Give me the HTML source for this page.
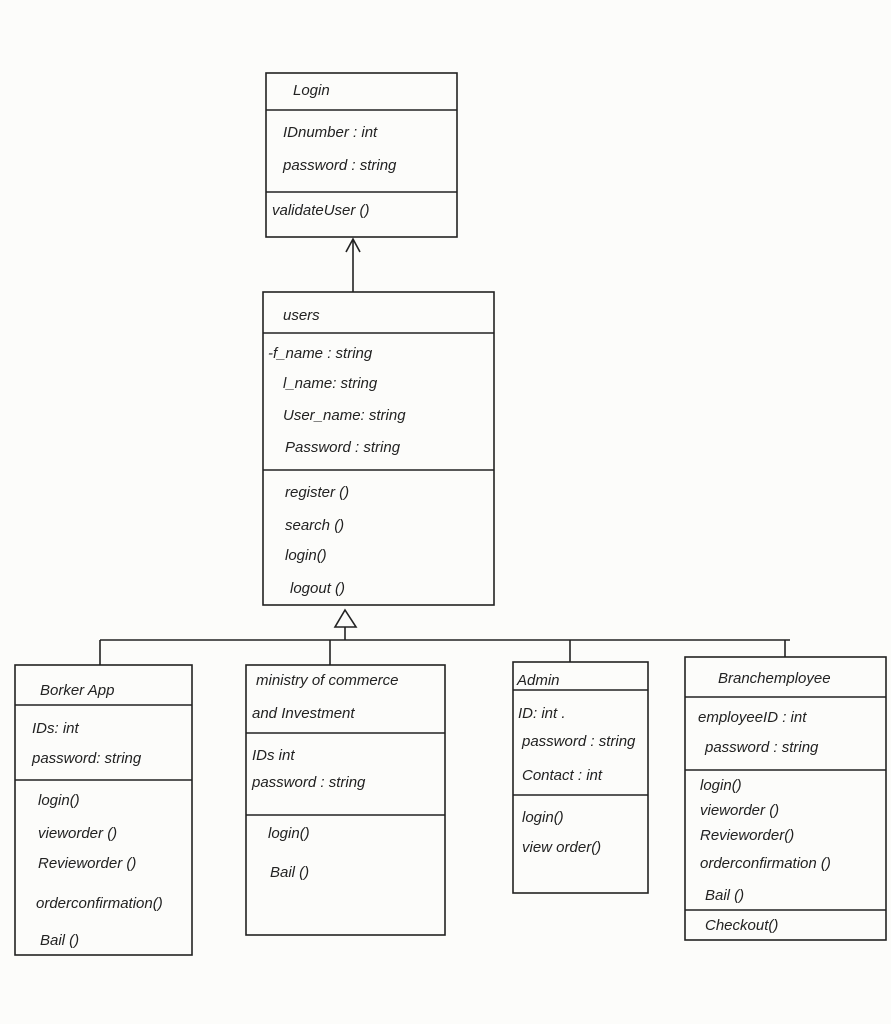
<!DOCTYPE html>
<html><head><style>
body{margin:0;background:#fcfcfa;}
svg{display:block}
text{font-family:"Liberation Sans",sans-serif;font-size:15px;fill:#222;font-style:italic}
</style></head><body>
<svg width="891" height="1024" viewBox="0 0 891 1024" xmlns="http://www.w3.org/2000/svg">
<rect width="891" height="1024" fill="#fcfcfa"/>
<g stroke="#222" stroke-width="1.6" fill="none">
<!-- Login -->
<rect x="266" y="73" width="191" height="164"/>
<line x1="266" y1="110" x2="457" y2="110"/>
<line x1="266" y1="192" x2="457" y2="192"/>
<!-- arrow -->
<line x1="353" y1="292" x2="353" y2="240"/>
<polyline points="346,252 353,239 360,252"/>
<!-- Users -->
<rect x="263" y="292" width="231" height="313"/>
<line x1="263" y1="333" x2="494" y2="333"/>
<line x1="263" y1="470" x2="494" y2="470"/>
<!-- generalization -->
<polygon points="345,610 335,627 356,627"/>
<line x1="345" y1="627" x2="345" y2="640"/>
<line x1="100" y1="640" x2="790" y2="640"/>
<line x1="100" y1="640" x2="100" y2="665"/>
<line x1="330" y1="640" x2="330" y2="665"/>
<line x1="570" y1="640" x2="570" y2="662"/>
<line x1="785" y1="640" x2="785" y2="657"/>
<!-- Borker -->
<rect x="15" y="665" width="177" height="290"/>
<line x1="15" y1="705" x2="192" y2="705"/>
<line x1="15" y1="780" x2="192" y2="780"/>
<!-- Ministry -->
<rect x="246" y="665" width="199" height="270"/>
<line x1="246" y1="733" x2="445" y2="733"/>
<line x1="246" y1="815" x2="445" y2="815"/>
<!-- Admin -->
<rect x="513" y="662" width="135" height="231"/>
<line x1="513" y1="690" x2="648" y2="690"/>
<line x1="513" y1="795" x2="648" y2="795"/>
<!-- Branch -->
<rect x="685" y="657" width="201" height="283"/>
<line x1="685" y1="697" x2="886" y2="697"/>
<line x1="685" y1="770" x2="886" y2="770"/>
<line x1="685" y1="910" x2="886" y2="910"/>
</g>
<text x="293" y="95">Login</text>
<text x="283" y="137" font-size="13">IDnumber : int</text>
<text x="283" y="170" font-size="13">password : string</text>
<text x="272" y="215" font-size="13">validateUser ()</text>

<text x="283" y="320" font-size="13">users</text>
<text x="268" y="358">-f_name : string</text>
<text x="283" y="388">l_name: string</text>
<text x="283" y="420">User_name: string</text>
<text x="285" y="452">Password : string</text>
<text x="285" y="497" font-size="13">register ()</text>
<text x="285" y="530">search ()</text>
<text x="285" y="560">login()</text>
<text x="290" y="593">logout ()</text>

<text x="40" y="695">Borker App</text>
<text x="32" y="733">IDs: int</text>
<text x="32" y="763" font-size="13">password: string</text>
<text x="38" y="805">login()</text>
<text x="38" y="838">vieworder ()</text>
<text x="38" y="868" font-size="13">Revieworder ()</text>
<text x="36" y="908" font-size="13">orderconfirmation()</text>
<text x="40" y="945">Bail ()</text>

<text x="256" y="685">ministry of commerce</text>
<text x="252" y="718">and Investment</text>
<text x="252" y="760">IDs int</text>
<text x="252" y="787" font-size="13">password : string</text>
<text x="268" y="838">login()</text>
<text x="270" y="877">Bail ()</text>

<text x="517" y="685" font-size="14">Admin</text>
<text x="518" y="718">ID: int .</text>
<text x="522" y="746" font-size="13">password : string</text>
<text x="522" y="780" font-size="13">Contact : int</text>
<text x="522" y="822">login()</text>
<text x="522" y="852">view order()</text>

<text x="718" y="683" font-size="13">Branchemployee</text>
<text x="698" y="722" font-size="13">employeeID : int</text>
<text x="705" y="752" font-size="13">password : string</text>
<text x="700" y="790" font-size="13">login()</text>
<text x="700" y="815" font-size="13">vieworder ()</text>
<text x="700" y="840" font-size="13">Revieworder()</text>
<text x="700" y="868" font-size="13">orderconfirmation ()</text>
<text x="705" y="900" font-size="13">Bail ()</text>
<text x="705" y="930" font-size="13">Checkout()</text>
</svg>
</body></html>
